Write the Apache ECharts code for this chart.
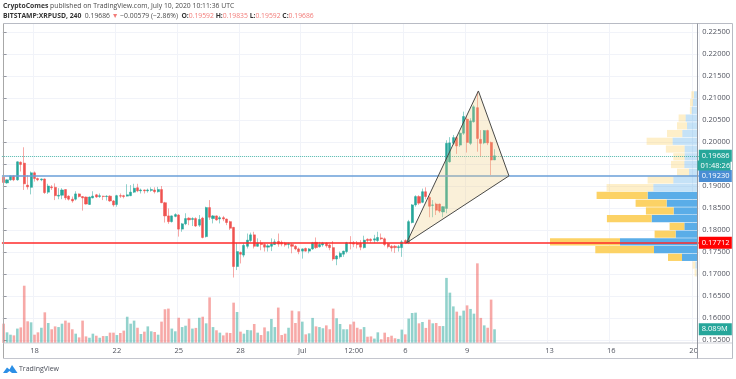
<!DOCTYPE html>
<html><head><meta charset="utf-8">
<style>html,body{margin:0;padding:0;background:#fff}#c{width:736px;height:379px}</style>
<script src="https://cdn.jsdelivr.net/npm/echarts@6/dist/echarts.min.js"></script>
</head><body><div id="c"></div>
<script>
const opens=[.1920,.1907,.1914,.1923,.1914,.1954,.1952,.1902,.1897,.1930,
.1917,.1914,.1916,.1886,.1898,.1897,.1877,.1879,.1892,.1877,
.1870,.1870,.1882,.1876,.1875,.1858,.1873,.1880,.1876,.1877,
.1876,.1877,.1866,.1858,.1878,.1878,.1877,.1878,.1886,.1896,
.1889,.1891,.1889,.1890,.1891,.1887,.1892,.1862,.1832,.1819,
.1831,.1834,.1802,.1814,.1827,.1824,.1826,.1811,.1827,.1785,
.1851,.1826,.1832,.1825,.1828,.1825,.1819,.1806,.1717,.1749,
.1743,.1763,.1776,.1789,.1763,.1770,.1767,.1761,.1763,.1767,
.1774,.1772,.1770,.1767,.1767,.1763,.1757,.1752,.1758,.1752,
.1757,.1772,.1762,.1766,.1770,.1766,.1760,.1734,.1739,.1745,
.1751,.1771,.1771,.1770,.1770,.1760,.1779,.1779,.1777,.1776,
.1782,.1780,.1769,.1763,.1763,.1760,.1760,.1776,.1771,.1817,
.1857,.1876,.1863,.1887,.1874,.1856,.1859,.1859,.1841,.1849,
.1955,.1997,.2010,.1993,.2020,.2052,.1997,.2046,.2078,.2006,
.1998,.2026,.1999,.19592];
const closes=[.1908,.1914,.1923,.1914,.1955,.1949,.1905,.1898,.1930,.1917,
.1914,.1916,.1885,.1900,.1896,.1878,.1879,.1891,.1873,.1870,
.1866,.1882,.1876,.1873,.1859,.1875,.1877,.1875,.1878,.1876,
.1877,.1866,.1857,.1878,.1877,.1876,.1880,.1886,.1895,.1889,
.1891,.1889,.1891,.1892,.1887,.1892,.1862,.1832,.1819,.1832,
.1835,.1802,.1814,.1826,.1823,.1826,.1809,.1824,.1783,.1851,
.1829,.1832,.1823,.1828,.1825,.1817,.1804,.1717,.1751,.1745,
.1765,.1777,.1789,.1763,.1770,.1767,.1761,.1764,.1768,.1773,
.1768,.1768,.1766,.1769,.1763,.1757,.1751,.1757,.1752,.1757,
.1771,.1760,.1767,.1770,.1764,.1760,.1734,.1741,.1747,.1752,
.1771,.1770,.1768,.1767,.1761,.1777,.1776,.1776,.1780,.1783,
.1780,.1767,.1762,.1759,.1760,.1762,.1773,.1771,.1819,.1857,
.1876,.1861,.1887,.1876,.1854,.1857,.1845,.1843,.1853,.1997,
.1998,.2010,.1991,.2020,.2058,.1999,.2048,.2080,.2008,.1997,
.2026,.1998,.1959,.19686];
const lows=[.1906,.1905,.1912,.1911,.1912,.1933,.1891,.1892,.1881,.1910,
.1911,.1911,.1882,.1882,.1891,.1868,.1870,.1870,.1868,.1867,
.1862,.1867,.1874,.1844,.1858,.1857,.1872,.1873,.1873,.1868,
.1867,.1864,.1853,.1853,.1873,.1872,.1876,.1877,.1884,.1886,
.1883,.1883,.1885,.1887,.1883,.1885,.1861,.1817,.1814,.1817,
.1829,.1785,.1796,.1811,.1811,.1809,.1807,.1807,.1781,.1783,
.1823,.1815,.1821,.1815,.1820,.1811,.1800,.1692,.1709,.1724,
.1738,.1758,.1773,.1758,.1762,.1754,.1751,.1751,.1752,.1766,
.1762,.1763,.1762,.1758,.1747,.1754,.1745,.1735,.1751,.1747,
.1755,.1757,.1760,.1762,.1760,.1754,.1730,.1720,.1735,.1739,
.1747,.1756,.1761,.1758,.1754,.1758,.1771,.1771,.1770,.1773,
.1777,.1763,.1758,.1751,.1748,.1751,.1739,.1768,.1768,.1815,
.1853,.1857,.1861,.1870,.1829,.1829,.1834,.1839,.1829,.1838,
.1953,.1993,.1973,.1989,.2016,.1976,.1993,.2044,.1978,.1967,
.1995,.1993,.1925,.19592];
const highs=[.1921,.1915,.1924,.1924,.1956,.1956,.1988,.1925,.1933,.1933,
.1919,.1917,.1917,.1905,.1902,.1906,.1895,.1895,.1892,.1879,
.1876,.1888,.1883,.1877,.1876,.1876,.1888,.1882,.1883,.1878,
.1879,.1879,.1868,.1880,.1883,.1880,.1904,.1902,.1905,.1905,
.1894,.1892,.1894,.1897,.1897,.1898,.1900,.1864,.1849,.1833,
.1838,.1836,.1816,.1838,.1829,.1829,.1829,.1834,.1830,.1853,
.1868,.1834,.1833,.1832,.1832,.1826,.1821,.1807,.1771,.1751,
.1770,.1792,.1794,.1796,.1781,.1777,.1770,.1768,.1781,.1779,
.1792,.1776,.1773,.1771,.1770,.1766,.1760,.1758,.1760,.1759,
.1773,.1783,.1773,.1773,.1772,.1768,.1775,.1743,.1751,.1753,
.1773,.1786,.1775,.1775,.1777,.1787,.1781,.1781,.1789,.1796,
.1792,.1783,.1771,.1766,.1766,.1766,.1777,.1779,.1823,.1859,
.1879,.1879,.1894,.1897,.1877,.1868,.1862,.1860,.1854,.2004,
.2011,.2016,.2013,.2023,.2069,.2058,.2054,.2084,.2114,.2027,
.2027,.2028,.2001,.19835];
const volumes=[11.4,6.3,4.9,4.5,8.5,9.2,33.8,12.8,12.2,4.9,
6.3,9.0,18.1,11.8,8.1,9.8,9.4,11.4,13.2,12.0,
8.1,5.5,3.3,13.2,3.9,3.1,5.5,4.3,3.1,4.1,
4.1,6.1,6.1,4.7,5.9,7.3,15.5,11.4,13.2,9.0,
5.3,6.7,9.8,6.9,6.5,4.9,12.6,19.9,20.3,8.5,
6.9,14.9,9.4,10.2,14.4,8.5,8.9,14.9,15.5,11.6,
26.9,9.4,7.5,6.1,4.5,6.1,5.9,23.8,18.3,6.7,
5.5,7.7,7.5,11.2,6.1,
4.7,9.2,6.9,14.2,9.4,20.9,4.7,5.5,9.0,19.1,
11.8,18.7,12.6,5.1,5.7,14.8,9.8,9.4,8.7,10.4,
8.1,20.3,14.6,11.2,8.1,8.1,11.0,12.6,9.0,8.1,
9.4,3.7,3.9,2.6,6.3,2.2,6.1,3.5,4.3,2.8,
2.4,7.9,5.1,14.4,17.7,17.9,11.6,12.4,8.9,13.8,
11.6,11.8,10.0,10.0,38.4,29.7,21.6,18.5,16.1,19.1,
22.2,20.1,17.3,47.0,14.8,10.4,9.0,25.6,8.089];
const tickIndex=[9,33,51,69,87,102,117,135,159,177,201];
const tickLabels=['18','22','25','28','Jul','12:00','6','9','13','16','20'];
const slotCount=203;
const categories=Array.from({length:slotCount},(_,i)=>{const k=tickIndex.indexOf(i);return k>=0?tickLabels[k]:''});
const priceTicks={min:.155,max:.225,step:.005};
const lastPrice=.19686, supportBlue=.1923, supportRed=.17712, lastVolume=8.089;
const triangleX=[117.4,138.3,147.2];
const triangleY=[.1771,.2116,.1923];
const profileBands=['.2100','.2083','.2065','.2048','.2030','.2013','.1995','.1978','.1960','.1943','.1925','.1908','.1890','.1872','.1855','.1837','.1820','.1802','.1785','.1767','.1750','.1732','.1714','.1697'];
const profileBuy=[3.3,4.3,5.7,11.7,10.3,15,24.7,12.7,12.7,13,8.3,24,44,49.7,30.7,23.7,45.7,13,21.7,77.3,43.3,15.3,2,0.7];
const profileSell=[2.7,3,1.7,7,10,15.3,26,18.7,11.3,13.3,12,25.7,46.7,51,31,27.7,44.7,14.7,21,70,58.7,14,2.7,2];
const profileSolid=[13,14,15,16,17,18,19,20,21];

const UP='#26a69a',DOWN='#ef5350',GRID='#f1f3f9',TXT='#50535e',FONT='"Open Sans",sans-serif';
const chart=echarts.init(document.getElementById('c'),null,{renderer:'canvas'});
const idx=opens.map((_,i)=>i);
const tag=(text,bg)=>({show:true,position:'end',distance:0,formatter:text,color:'#fff',backgroundColor:bg,padding:[2,3,2,3],fontSize:7.5,fontFamily:FONT,width:27,align:'left',opacity:1});
const frame=(x1,y1,x2,y2,c)=>({type:'line',z:100,silent:true,shape:{x1,y1,x2,y2},style:{stroke:c||'#b8bbc4',lineWidth:1}});
const headFont={fontSize:6.8,fontWeight:'normal',color:'#4a4a4a',fontFamily:FONT};
const headBold={fontWeight:'bold',fontSize:6.8,color:'#333',fontFamily:FONT};
chart.setOption({
 animation:false,backgroundColor:'#fff',
 textStyle:{fontFamily:FONT},
 title:[
  {left:3,top:3,padding:0,itemGap:0,text:'{b|CryptoComes} published on TradingView.com, July 10, 2020 10:11:36 UTC',
   textStyle:{...headFont,rich:{b:headBold}}},
  {left:3,top:12.5,padding:0,text:'{b|BITSTAMP:XRPUSD, 240}  0.19686 {r|▼} −0.00579 (−2.86%)  {b|O:}{r|0.19592} {b|H:}{r|0.19835} {b|L:}{r|0.19592} {b|C:}{r|0.19686}',
   textStyle:{...headFont,rich:{b:headBold,r:{color:'#f27b78',fontSize:6.8,fontFamily:FONT}}}}
 ],
 grid:[
  {left:1.9,top:32,width:696.9,height:308},
  {left:1.9,top:23,width:696.9,height:320},
  {left:457.3,top:91,width:240,height:185.7}
 ],
 xAxis:[
  {type:'category',gridIndex:0,data:categories,show:false,boundaryGap:true},
  {type:'category',gridIndex:1,data:categories,boundaryGap:true,
   axisLine:{show:false},
   axisTick:{alignWithLabel:true,length:2,lineStyle:{color:'#9598a1'},interval:i=>categories[i]!==''},
   axisLabel:{interval:i=>categories[i]!=='',color:TXT,fontSize:7.5,margin:4,fontFamily:FONT,hideOverlap:false},
   splitLine:{show:true,interval:i=>categories[i]!=='',lineStyle:{color:GRID,width:1}}},
  {type:'value',gridIndex:2,inverse:true,min:0,max:240,show:false},
  {type:'value',gridIndex:0,min:-.5,max:slotCount-.5,show:false}
 ],
 yAxis:[
  {type:'value',gridIndex:0,position:'right',offset:-1.5,min:priceTicks.min,max:priceTicks.max,interval:priceTicks.step,
   axisLine:{show:false},axisTick:{show:true,length:3,lineStyle:{color:'#9598a1'}},
   axisLabel:{formatter:v=>v.toFixed(5),color:TXT,fontSize:7.5,margin:5,fontFamily:FONT},
   splitLine:{show:true,lineStyle:{color:GRID,width:1}}},
  {type:'value',gridIndex:1,min:0,max:188.8,show:false,splitLine:{show:false}},
  {type:'category',gridIndex:2,inverse:true,data:profileBands,show:false}
 ],
 series:[
  {type:'bar',name:'Volume',xAxisIndex:1,yAxisIndex:1,barWidth:2.6,z:1,silent:true,
   data:idx.map(i=>({value:volumes[i],itemStyle:{color:closes[i]>=opens[i]?'rgba(38,166,154,.5)':'rgba(239,83,80,.5)'}})),
   markLine:{silent:true,symbol:'none',precision:5,lineStyle:{color:'rgba(0,0,0,0)'},data:[{yAxis:lastVolume,label:tag('8.089M','#26a69a')}]}},
  {type:'bar',name:'Buy',xAxisIndex:2,yAxisIndex:2,stack:'p',barWidth:7.2,z:2,silent:true,
   data:profileBuy.map((v,i)=>({value:v,itemStyle:{color:'#5aade8',opacity:profileSolid.includes(i)?1:.35}}))},
  {type:'bar',name:'Sell',xAxisIndex:2,yAxisIndex:2,stack:'p',barWidth:7.2,z:2,silent:true,
   data:profileSell.map((v,i)=>({value:v,itemStyle:{color:'#fcd265',opacity:profileSolid.includes(i)?1:.35}}))},
  {type:'candlestick',name:'Wicks',xAxisIndex:0,yAxisIndex:0,barWidth:1,z:3,silent:true,
   itemStyle:{color:'rgba(38,166,154,.5)',color0:'rgba(239,83,80,.5)',borderColor:'rgba(38,166,154,.5)',borderColor0:'rgba(239,83,80,.5)',borderWidth:1},
   data:idx.map(i=>[opens[i],closes[i],lows[i],highs[i]])},
  {type:'candlestick',name:'Bodies',xAxisIndex:0,yAxisIndex:0,barWidth:2.6,z:4,silent:true,
   itemStyle:{color:UP,color0:DOWN,borderColor:UP,borderColor0:DOWN,borderWidth:0.5},
   data:idx.map(i=>[opens[i],closes[i],Math.min(opens[i],closes[i]),Math.max(opens[i],closes[i])]),
   markLine:{silent:true,symbol:'none',animation:false,precision:5,data:[
    {yAxis:lastPrice,lineStyle:{color:'#26a69a',type:[1,1],width:1,opacity:.8},label:tag('0.19686','#26a69a')},
    {yAxis:supportBlue,lineStyle:{color:'#6a9fd8',type:'solid',width:1.5},label:tag('0.19230','#4a8ed4')},
    {yAxis:supportRed,lineStyle:{color:'#ff2a2a',type:'solid',width:1.5},label:tag('0.17712','#ff0000')}
   ]}},
  {type:'custom',name:'Triangle',xAxisIndex:3,yAxisIndex:0,z:5,silent:true,clip:false,data:[0],
   renderItem:(p,api)=>({type:'polygon',shape:{points:triangleX.map((x,i)=>api.coord([x,triangleY[i]]))},
     style:{fill:'rgba(240,205,130,.3)',stroke:'#4a4a48',lineWidth:1}})}
 ],
 graphic:[
  frame(3.5,23.5,732.5,23.5),
  frame(3.5,23.5,3.5,358.5,'#a8a8a8'),
  frame(3.5,343,732.5,343,'#cfd1d8'),
  frame(3.5,358.5,732.5,358.5,'#c4c6ce'),
  frame(697.5,23.5,697.5,358.5,'#9598a1'),
  frame(732.5,23.5,732.5,358.5),
  {type:'rect',z:101,silent:true,shape:{x:697.5,y:160.5,width:33,height:10},style:{fill:'#2aa79b'}},
  {type:'text',z:102,silent:true,x:700.5,y:161.5,style:{text:'01:48:26',fill:'#fff',font:'7.5px '+FONT}},
  {type:'polygon',z:102,silent:true,shape:{points:[[3,373],[7,367.5],[9.5,369.5],[12,365],[17.5,373]]},style:{fill:'#2b8fe6'}},
  {type:'polygon',z:103,silent:true,shape:{points:[[7,373],[9.5,371],[12,373]]},style:{fill:'#fff'}},
  {type:'text',z:102,silent:true,x:19,y:365,style:{text:'TradingView',fill:'#4a4e59',font:'7px '+FONT}}
 ]
});
</script></body></html>
